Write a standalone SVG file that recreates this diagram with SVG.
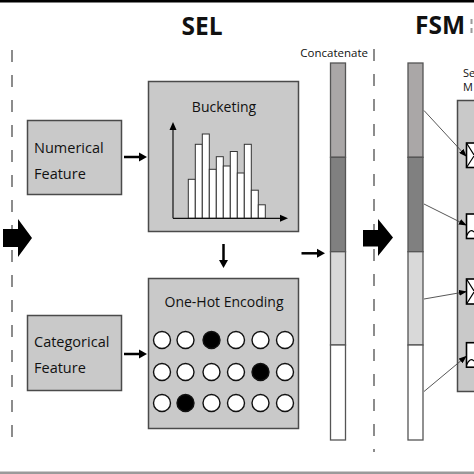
<svg xmlns="http://www.w3.org/2000/svg" width="474" height="474" viewBox="0 0 474 474">
<style>
text{font-family:"Open Sans","Noto Sans","Liberation Sans",sans-serif;fill:#111}
.box{fill:#c9c9c9;stroke:#4a4a4a;stroke-width:1.5}
.dash{stroke:#8c8c8c;stroke-width:2;stroke-dasharray:12 13;fill:none}
.bar{stroke:#555;stroke-width:1.3}
.hb{fill:#fff;stroke:#333;stroke-width:1}
.c{fill:#fff;stroke:#111;stroke-width:1.4}
.cf{fill:#000;stroke:#111;stroke-width:1.4}
.arr{stroke:#000;stroke-width:2.5;fill:none}
.thin{stroke:#444;stroke-width:0.9;fill:none}
.ic{fill:#fff;stroke:#000;stroke-width:1.6}
</style>
<defs>
<marker id="ak" markerWidth="8" markerHeight="6" refX="7" refY="3" orient="auto" markerUnits="userSpaceOnUse"><path d="M0,0 L8,3 L0,6 Z" fill="#000"/></marker>
</defs>
<rect x="0" y="0" width="474" height="474" fill="#fff"/>
<rect x="0" y="0" width="474" height="2.5" fill="#000"/>
<rect x="0" y="471.5" width="474" height="2.5" fill="#9a9a9a"/>

<g id="titles">
<text x="202" y="35" font-size="24.5" font-weight="bold" text-anchor="middle">SEL</text>
<text x="440" y="34" font-size="24.5" font-weight="bold" text-anchor="middle">FSM</text>
<line x1="471.5" y1="19" x2="471.5" y2="34" stroke="#9a9a9a" stroke-width="2" stroke-dasharray="5 4"/>
</g>

<g id="dividers">
<line class="dash" x1="12" y1="50" x2="12" y2="442"/>
<line class="dash" x1="374" y1="49" x2="374" y2="452"/>
</g>

<g id="input-arrow">
<path d="M3,229 L18,229 L18,219 L32,238 L18,257 L18,247 L3,247 Z" fill="#000"/>
</g>

<g id="numerical">
<rect class="box" x="27.5" y="120.5" width="94" height="74"/>
<text x="34" y="153" font-size="14.5">Numerical</text>
<text x="34" y="179" font-size="14.5">Feature</text>
</g>

<g id="categorical">
<rect class="box" x="27.5" y="315.5" width="94" height="75"/>
<text x="34" y="347" font-size="14.5">Categorical</text>
<text x="34" y="373" font-size="14.5">Feature</text>
</g>

<g id="bucketing">
<rect class="box" x="148.5" y="81.5" width="150" height="150"/>
<text x="224" y="112" font-size="14" text-anchor="middle">Bucketing</text>
<g>
<rect class="hb" x="188.3" y="179.3" width="7" height="39"/>
<rect class="hb" x="195.3" y="144.3" width="7" height="74"/>
<rect class="hb" x="202.3" y="134" width="7" height="84.3"/>
<rect class="hb" x="209.3" y="169.3" width="7" height="49"/>
<rect class="hb" x="216.3" y="156.7" width="7" height="61.6"/>
<rect class="hb" x="223.3" y="166" width="7" height="52.3"/>
<rect class="hb" x="230.3" y="151.5" width="7" height="66.8"/>
<rect class="hb" x="237.3" y="173" width="7" height="45.3"/>
<rect class="hb" x="244.3" y="144.3" width="7" height="74"/>
<rect class="hb" x="251.3" y="190.2" width="7" height="28.1"/>
<rect class="hb" x="258.3" y="204.8" width="7" height="13.5"/>
</g>
<line x1="173" y1="218.3" x2="173" y2="128" stroke="#111" stroke-width="1.2"/>
<path d="M169.5,130 L173,122 L176.5,130 Z" fill="#000"/>
<line x1="173" y1="218.3" x2="282" y2="218.3" stroke="#111" stroke-width="1.2"/>
<path d="M280,214.8 L288,218.3 L280,221.8 Z" fill="#000"/>
</g>

<g id="onehot">
<rect class="box" x="148.5" y="278.5" width="150" height="150"/>
<text x="224" y="307" font-size="14" text-anchor="middle">One-Hot Encoding</text>
<circle class="c" cx="162" cy="340" r="8.5"/>
<circle class="c" cx="185.5" cy="340" r="8.5"/>
<circle class="cf" cx="211.5" cy="340" r="8.5"/>
<circle class="c" cx="236" cy="340" r="8.5"/>
<circle class="c" cx="260.5" cy="340" r="8.5"/>
<circle class="c" cx="285" cy="340" r="8.5"/>
<circle class="c" cx="162" cy="372" r="8.5"/>
<circle class="c" cx="185.5" cy="372" r="8.5"/>
<circle class="c" cx="211.5" cy="372" r="8.5"/>
<circle class="c" cx="236" cy="372" r="8.5"/>
<circle class="cf" cx="260.5" cy="372" r="8.5"/>
<circle class="c" cx="285" cy="372" r="8.5"/>
<circle class="c" cx="162" cy="403" r="8.5"/>
<circle class="cf" cx="185.5" cy="403" r="8.5"/>
<circle class="c" cx="211.5" cy="403" r="8.5"/>
<circle class="c" cx="236" cy="403" r="8.5"/>
<circle class="c" cx="260.5" cy="403" r="8.5"/>
<circle class="c" cx="285" cy="403" r="8.5"/>
</g>

<g id="concat">
<text x="368" y="57" font-size="11.5" text-anchor="end">Concatenate</text>
<rect class="bar" x="330.5" y="63" width="15" height="94.3" fill="#aaa7a7"/>
<rect class="bar" x="330.5" y="157.3" width="15" height="94.4" fill="#808080"/>
<rect class="bar" x="330.5" y="251.7" width="15" height="93.3" fill="#d9d9d9"/>
<rect class="bar" x="330.5" y="345" width="15" height="95" fill="#fff"/>
</g>

<g id="fsm-input">
<rect class="bar" x="408" y="63" width="15" height="94.3" fill="#aaa7a7"/>
<rect class="bar" x="408" y="157.3" width="15" height="94.4" fill="#808080"/>
<rect class="bar" x="408" y="251.7" width="15" height="93.3" fill="#d9d9d9"/>
<rect class="bar" x="408" y="345" width="15" height="95" fill="#fff"/>
</g>

<g id="mid-arrow">
<path d="M363,230 L378,230 L378,219 L393,237.5 L378,256 L378,246.5 L363,246.5 Z" fill="#000"/>
</g>

<g id="selection-module">
<text x="463" y="77" font-size="11">Se</text>
<text x="463" y="91" font-size="11">M</text>
<rect x="457.5" y="100.5" width="30" height="291" fill="#c9c9c9" stroke="#4a4a4a" stroke-width="1.5"/>
<g>
<rect class="ic" x="466.5" y="143" width="20" height="24.5"/>
<path d="M466.5,143 L474,155 M466.5,167.5 L474,156" stroke="#000" stroke-width="1.2" fill="none"/>
<rect class="ic" x="466.5" y="214" width="20" height="24.5"/>
<path d="M466.5,236 Q470,228 474,232" stroke="#000" stroke-width="1.2" fill="none"/>
<rect class="ic" x="466.5" y="279" width="20" height="25"/>
<path d="M466.5,279 L474,291 M466.5,304 L474,292" stroke="#000" stroke-width="1.2" fill="none"/>
<rect class="ic" x="466.5" y="342.7" width="20" height="24.5"/>
<path d="M466.5,365 Q470,357 474,361" stroke="#000" stroke-width="1.2" fill="none"/>
</g>
</g>

<g id="connectors">
<line class="arr" x1="124" y1="157" x2="141" y2="157"/>
<path d="M139,152.5 L147,157 L139,161.5 Z" fill="#000"/>
<line class="arr" x1="124" y1="354" x2="141" y2="354"/>
<path d="M139,349.5 L147,354 L139,358.5 Z" fill="#000"/>
<line class="arr" x1="223.5" y1="244" x2="223.5" y2="262"/>
<path d="M219,260 L223.5,268 L228,260 Z" fill="#000"/>
<line class="arr" x1="301.5" y1="253.3" x2="319" y2="253.3"/>
<path d="M317,248.8 L325,253.3 L317,257.8 Z" fill="#000"/>
<line class="thin" x1="424" y1="110.5" x2="466" y2="156" marker-end="url(#ak)"/>
<line class="thin" x1="424" y1="204" x2="466" y2="225" marker-end="url(#ak)"/>
<line class="thin" x1="424" y1="299" x2="466" y2="291.7" marker-end="url(#ak)"/>
<line class="thin" x1="424" y1="391.5" x2="466" y2="356.5" marker-end="url(#ak)"/>
</g>
</svg>
